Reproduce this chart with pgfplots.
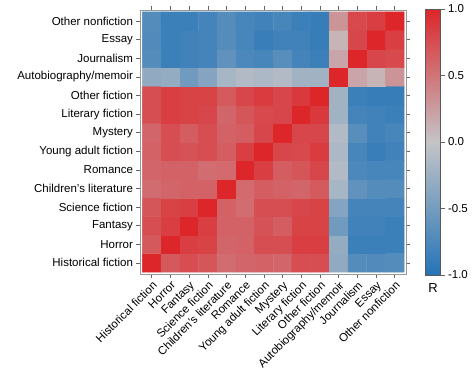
\documentclass[border=0pt]{standalone}
\usepackage{pgfplots}
\pgfplotsset{compat=1.18}
\usepackage{fontspec}
\setmainfont{Liberation Sans}
\begin{document}
\begin{tikzpicture}
\useasboundingbox (0,0) rectangle (474pt,375pt);
\begin{axis}[
  at={(140.5pt,365pt)}, anchor=north west,
  scale only axis, width=265.5pt, height=264pt,
  xmin=-0.6, xmax=13.6, ymin=-0.6, ymax=13.6,
  xtick={0,...,13}, ytick={0,...,13},
  xticklabels={Historical fiction,Horror,Fantasy,Science fiction,Children's literature,Romance,Young adult fiction,Mystery,Literary fiction,Other fiction,Autobiography/memoir,Journalism,Essay,Other nonfiction},
  yticklabels={Historical fiction,Horror,Fantasy,Science fiction,Children's literature,Romance,Young adult fiction,Mystery,Literary fiction,Other fiction,Autobiography/memoir,Journalism,Essay,Other nonfiction},
  tick align=outside, tick pos=both, major tick length=4pt,
  axis line style={draw=gray!80},
  every tick/.style={draw=gray!80!black, line width=0.6pt},
  tick label style={font=\fontsize{11.5}{13}\selectfont},
  x tick label style={rotate=45, anchor=north east, inner sep=1.5pt},
  colormap={rw}{rgb255=(36,116,183) rgb255=(196,196,199) rgb255=(220,38,42)},
  point meta min=-1, point meta max=1,
  colorbar,
  colorbar style={
    at={(parent axis.north east)}, anchor=north west, xshift=11pt, yshift=1pt,
    width=15pt, height=266pt,
    ytick={-1,-0.5,0,0.5,1},
    yticklabel style={/pgf/number format/.cd, fixed, fixed zerofill, precision=1, assume math mode=true},
    ytick pos=right, tick align=outside, major tick length=4pt,
    axis line style={draw=gray!70!black},
    tick label style={font=\fontsize{11.5}{13}\selectfont},
    xlabel={R}, xlabel style={font=\fontsize{13}{15}\selectfont, yshift=-1pt},
  },
]
\addplot[matrix plot*, mesh/cols=14, point meta=explicit] table[meta=C] {
x y C
0 0 1
1 0 0.68
2 0 0.75
3 0 0.7
4 0 0.55
5 0 0.6
6 0 0.62
7 0 0.6
8 0 0.75
9 0 0.75
10 0 -0.32
11 0 -0.7
12 0 -0.72
13 0 -0.7
0 1 0.68
1 1 1
2 1 0.85
3 1 0.82
4 1 0.6
5 1 0.62
6 1 0.75
7 1 0.75
8 1 0.85
9 1 0.85
10 1 -0.3
11 1 -0.85
12 1 -0.85
13 1 -0.85
0 2 0.75
1 2 0.85
2 2 1
3 2 0.85
4 2 0.62
5 2 0.62
6 2 0.72
7 2 0.65
8 2 0.82
9 2 0.82
10 2 -0.52
11 2 -0.82
12 2 -0.82
13 2 -0.85
0 3 0.7
1 3 0.82
2 3 0.85
3 3 1
4 3 0.62
5 3 0.55
6 3 0.75
7 3 0.75
8 3 0.8
9 3 0.82
10 3 -0.4
11 3 -0.8
12 3 -0.8
13 3 -0.8
0 4 0.55
1 4 0.6
2 4 0.62
3 4 0.62
4 4 1
5 4 0.57
6 4 0.65
7 4 0.62
8 4 0.6
9 4 0.67
10 4 -0.18
11 4 -0.62
12 4 -0.7
13 4 -0.7
0 5 0.6
1 5 0.62
2 5 0.62
3 5 0.55
4 5 0.57
5 5 1
6 5 0.85
7 5 0.65
8 5 0.7
9 5 0.8
10 5 -0.12
11 5 -0.75
12 5 -0.78
13 5 -0.78
0 6 0.62
1 6 0.75
2 6 0.72
3 6 0.75
4 6 0.65
5 6 0.85
6 6 1
7 6 0.8
8 6 0.78
9 6 0.87
10 6 -0.15
11 6 -0.78
12 6 -0.87
13 6 -0.82
0 7 0.6
1 7 0.75
2 7 0.65
3 7 0.75
4 7 0.62
5 7 0.65
6 7 0.8
7 7 1
8 7 0.8
9 7 0.8
10 7 -0.12
11 7 -0.68
12 7 -0.82
13 7 -0.78
0 8 0.75
1 8 0.85
2 8 0.82
3 8 0.8
4 8 0.6
5 8 0.7
6 8 0.78
7 8 0.8
8 8 1
9 8 0.88
10 8 -0.22
11 8 -0.8
12 8 -0.82
13 8 -0.85
0 9 0.75
1 9 0.85
2 9 0.82
3 9 0.82
4 9 0.67
5 9 0.8
6 9 0.87
7 9 0.8
8 9 0.88
9 9 1
10 9 -0.22
11 9 -0.85
12 9 -0.88
13 9 -0.88
0 10 -0.32
1 10 -0.3
2 10 -0.52
3 10 -0.4
4 10 -0.18
5 10 -0.12
6 10 -0.15
7 10 -0.12
8 10 -0.22
9 10 -0.22
10 10 1
11 10 0.2
12 10 0.1
13 10 0.3
0 11 -0.7
1 11 -0.85
2 11 -0.82
3 11 -0.8
4 11 -0.62
5 11 -0.75
6 11 -0.78
7 11 -0.68
8 11 -0.8
9 11 -0.85
10 11 0.2
11 11 1
12 11 0.8
13 11 0.78
0 12 -0.72
1 12 -0.85
2 12 -0.82
3 12 -0.8
4 12 -0.7
5 12 -0.78
6 12 -0.87
7 12 -0.82
8 12 -0.82
9 12 -0.88
10 12 0.1
11 12 0.8
12 12 1
13 12 0.85
0 13 -0.7
1 13 -0.85
2 13 -0.85
3 13 -0.8
4 13 -0.7
5 13 -0.78
6 13 -0.82
7 13 -0.78
8 13 -0.85
9 13 -0.88
10 13 0.3
11 13 0.78
12 13 0.85
13 13 1
};
\end{axis}
\end{tikzpicture}
\end{document}
